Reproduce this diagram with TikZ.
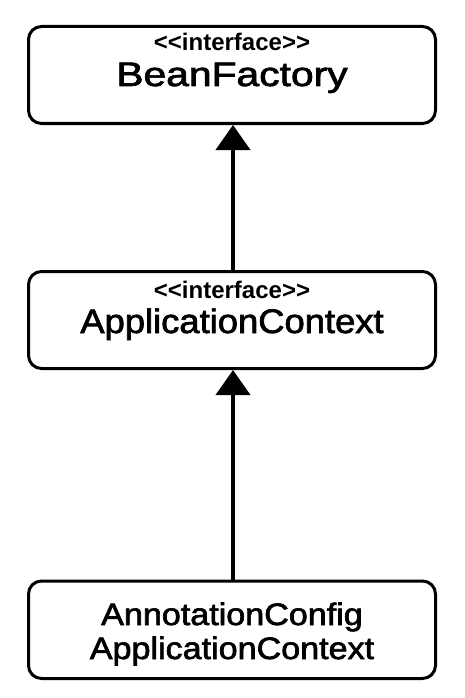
\documentclass[tikz,border=0pt]{standalone}
\usepackage{fontspec}
\setmainfont{Liberation Sans}
\newfontfamily\medfont[FakeBold=2]{Liberation Sans}
\usetikzlibrary{arrows.meta}
\tikzset{
  umlbox/.style={draw=black, line width=3pt, rounded corners=13pt, minimum width=407pt, inner sep=0pt, fill=white},
  stereo/.style={anchor=base, inner sep=0pt, font=\bfseries\fontsize{24}{26}\selectfont},
  bigname/.style={anchor=base, inner sep=0pt, font=\medfont\fontsize{34}{36}\selectfont},
  smallname/.style={anchor=base, inner sep=0pt, font=\medfont\fontsize{31}{33}\selectfont},
  inherit/.style={line width=4pt, line cap=round, -{Triangle[length=25pt,width=34pt]}}
}
\begin{document}
\begin{tikzpicture}[x=1pt,y=-1pt]
\useasboundingbox[fill=white] (0,0) rectangle (464,698);
\node[umlbox, minimum height=97pt] (b1) at (232,75) {};
\node[umlbox, minimum height=97pt] (b2) at (232,320) {};
\node[umlbox, minimum height=97.5pt] (b3) at (232,629.75) {};
\node[stereo] (t1a) at (232,51) {{<}{<}interface{>}{>}};
\node[bigname] (t1b) at (232,86) {\scalebox{1.2}[1]{BeanFactory}};
\node[stereo] (t2a) at (232,298) {{<}{<}interface{>}{>}};
\node[bigname] (t2b) at (232,333) {\scalebox{1.07}[1]{ApplicationContext}};
\node[smallname] (t3a) at (232,625) {\scalebox{1.1}[1]{AnnotationConfig}};
\node[smallname] (t3b) at (232,659) {\scalebox{1.1}[1]{ApplicationContext}};
\draw[inherit] (b2.north -| 233,0) -- (b1.south -| 233,0);
\draw[inherit] (b3.north -| 233,0) -- (b2.south -| 233,0);
\end{tikzpicture}
\end{document}
